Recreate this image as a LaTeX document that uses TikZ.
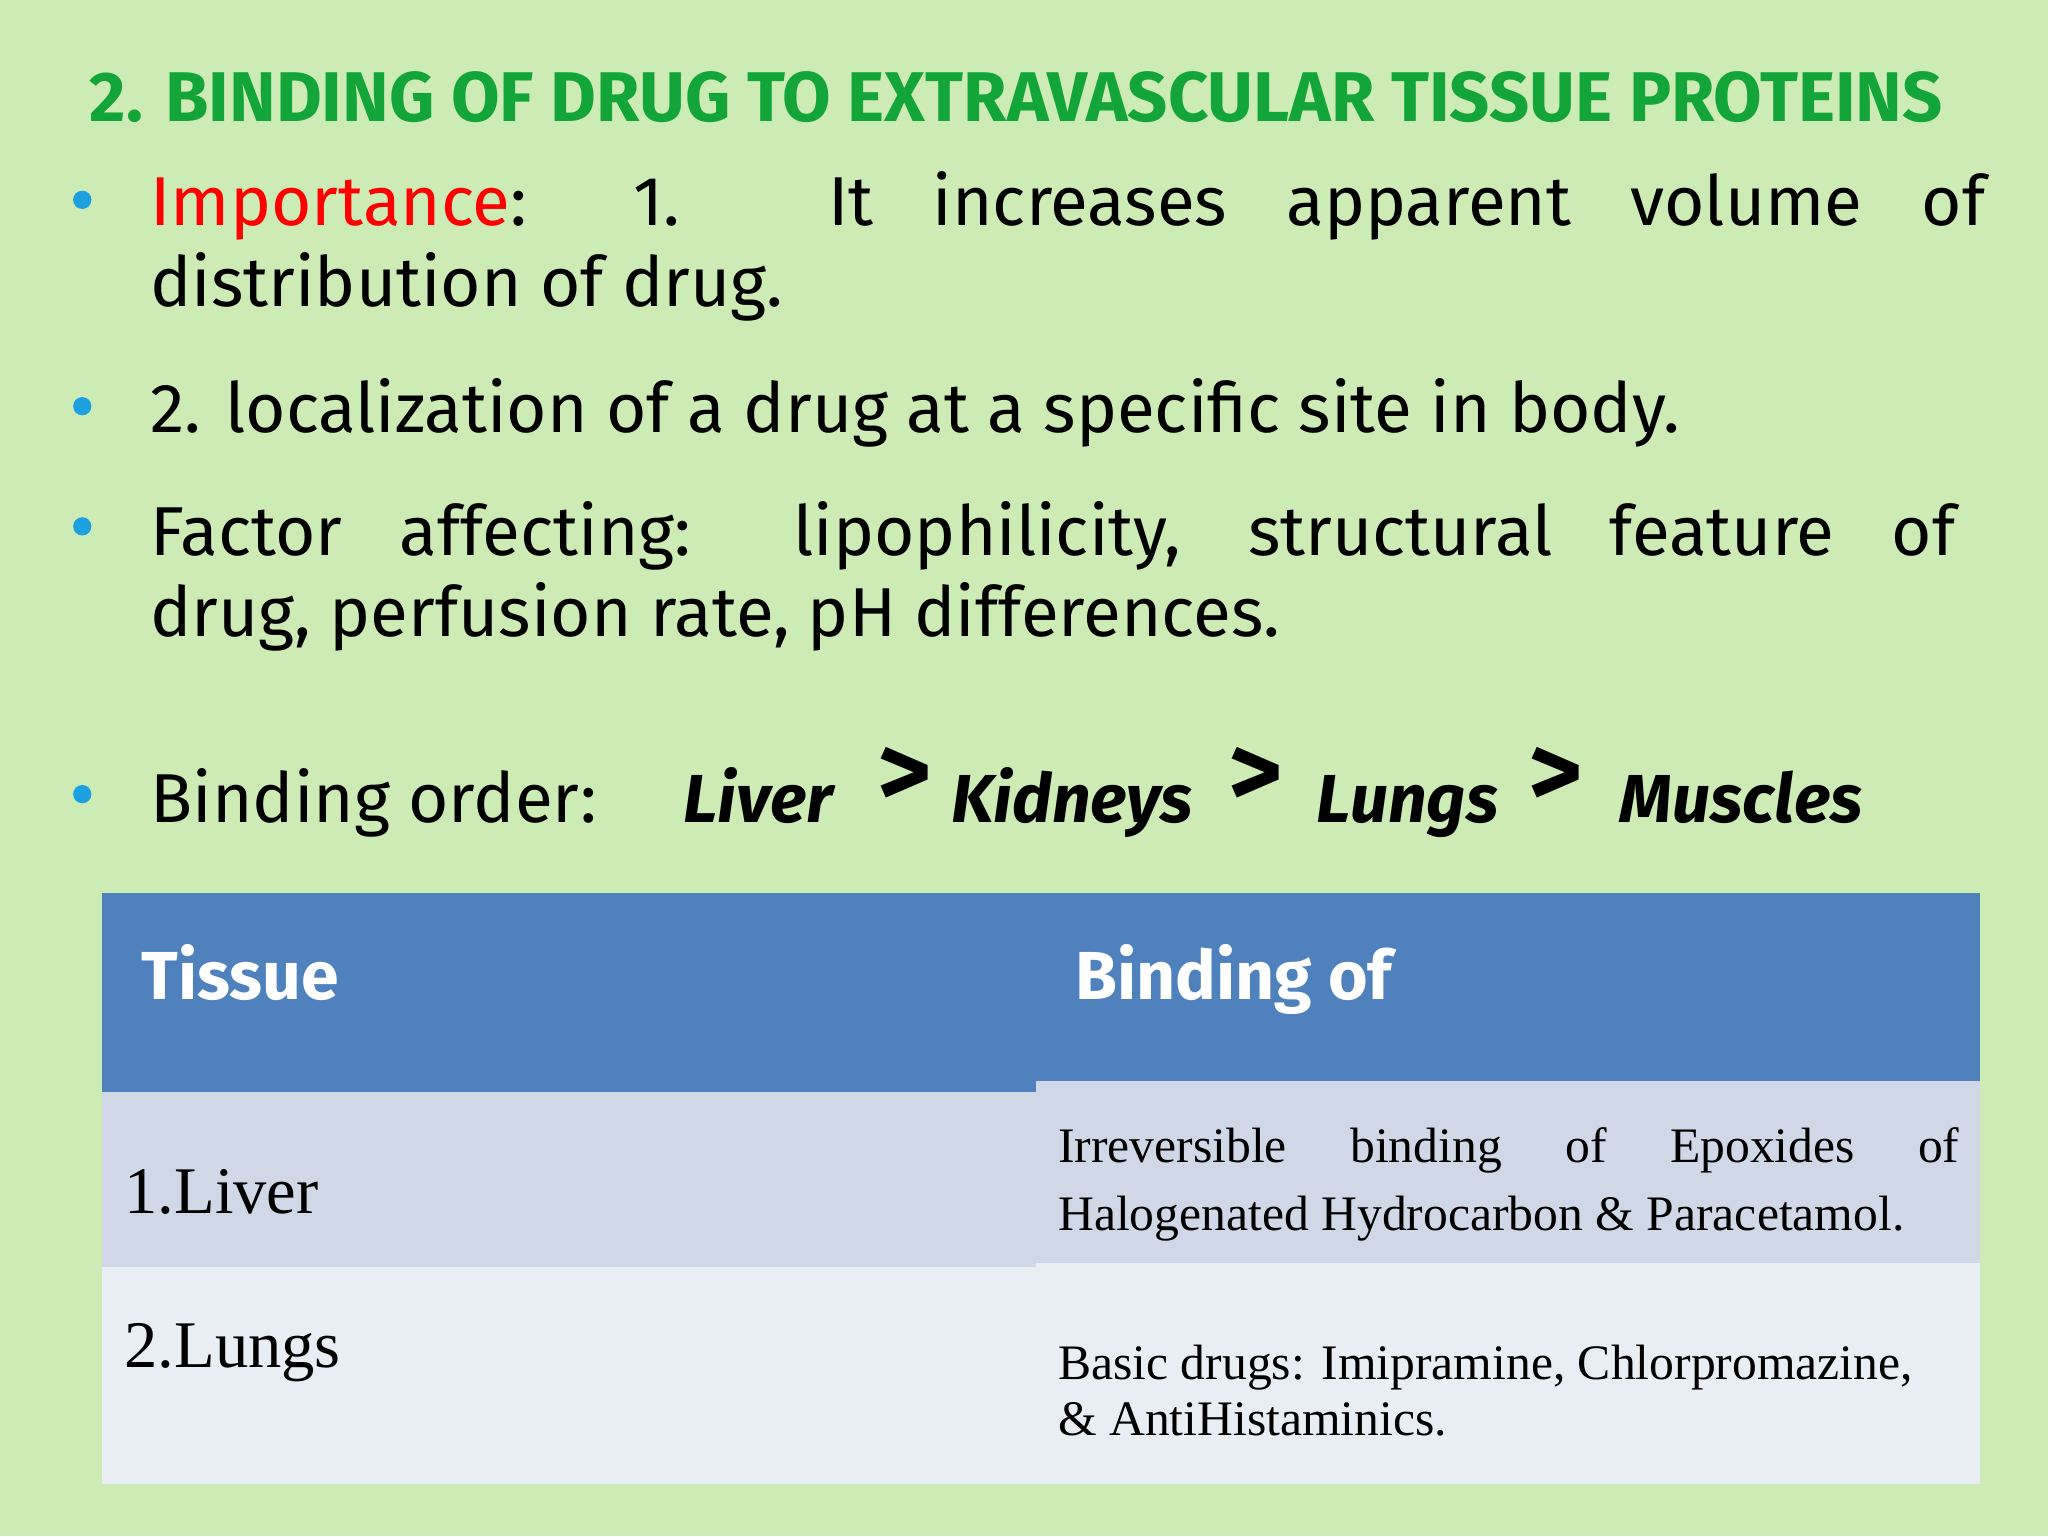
\documentclass[tikz,border=0pt]{standalone}
\usepackage{fontspec}
\setmainfont{Fira Sans}
\newfontfamily\serif{Liberation Serif}
\definecolor{bg}{HTML}{CDEBB5}
\definecolor{ttl}{HTML}{13A538}
\definecolor{bul}{HTML}{1CA0E0}
\definecolor{hdr}{HTML}{4F81BD}
\definecolor{rowa}{HTML}{D0D8E8}
\definecolor{rowb}{HTML}{E9EDF4}
\tikzset{txt/.style={anchor=base west,inner sep=0pt,font=\fontsize{53}{60}\selectfont},
 bl/.style={circle,fill=bul,inner sep=0pt,minimum size=14pt},
 ser/.style={anchor=base west,inner sep=0pt,font=\serif\fontsize{38}{44}\selectfont},
 big/.style={anchor=base west,inner sep=0pt,font=\serif\fontsize{51}{60}\selectfont},
 bo/.style={anchor=base west,inner sep=0pt,font=\fontsize{52}{60}\selectfont\bfseries\itshape},
 gt/.style={anchor=base west,inner sep=0pt,font=\fontsize{80}{80}\selectfont\bfseries}}
\begin{document}
\begin{tikzpicture}[x=1pt,y=-1pt]
\fill[bg] (0,0) rectangle (1568,1176);
\node[anchor=base,inner sep=0pt,text=ttl,font=\fontseries{sb}\selectfont] (t) at (778,93) {\resizebox{1418pt}{!}{2. BINDING OF DRUG TO EXTRAVASCULAR TISSUE PROTEINS}};
\node[bl] (b1) at (63,153) {};
\node[bl] (b2) at (63,311) {};
\node[bl] (b3) at (63,403) {};
\node[bl] (b4) at (63,608) {};
\node[txt] (l1) at (115,173) {\makebox[1405pt][s]{\textcolor{red}{Importance}: 1. It increases apparent volume of}};
\node[txt] (l2) at (115,235) {distribution of drug.};
\node[txt] (l3) at (115,331) {2. localization of a drug at a specific site in body.};
\node[txt] (l4) at (115,425) {\makebox[1382pt][s]{Factor affecting: lipophilicity, structural feature of}};
\node[txt] (l5) at (115,487) {drug, perfusion rate, pH differences.};
\node[txt] (l6) at (115,630) {Binding order:};
\node[bo] (o1) at (523,630) {Liver};
\node[gt] (g1) at (672,618) {>};
\node[bo] (o2) at (728,630) {Kidneys};
\node[gt] (g2) at (940,618) {>};
\node[bo] (o3) at (1008,630) {Lungs};
\node[gt] (g3) at (1170,618) {>};
\node[bo] (o4) at (1240,630) {Muscles};
\fill[hdr] (78,684) rectangle (793,836);
\fill[hdr] (793,684) rectangle (1516,828);
\fill[rowa] (78,836) rectangle (793,970);
\fill[rowa] (793,828) rectangle (1516,967);
\fill[rowb] (78,970) rectangle (793,1136);
\fill[rowb] (793,967) rectangle (1516,1136);
\node[txt,text=white,font=\fontsize{52}{60}\selectfont\bfseries] (h1) at (108,765) {Tissue};
\node[txt,text=white,font=\fontsize{52}{60}\selectfont\bfseries] (h2) at (823,765) {Binding of};
\node[big] (c1) at (95,929) {1.Liver};
\node[big] (c2) at (95,1047) {2.Lungs};
\node[ser] (d1) at (810,890) {\makebox[690pt][s]{Irreversible binding of Epoxides of}};
\node[ser] (d2) at (810,942) {Halogenated Hydrocarbon \& Paracetamol.};
\node[ser] (d3) at (810,1056) {Basic drugs: Imipramine, Chlorpromazine,};
\node[ser] (d4) at (810,1099) {\& AntiHistaminics.};
\end{tikzpicture}
\end{document}
